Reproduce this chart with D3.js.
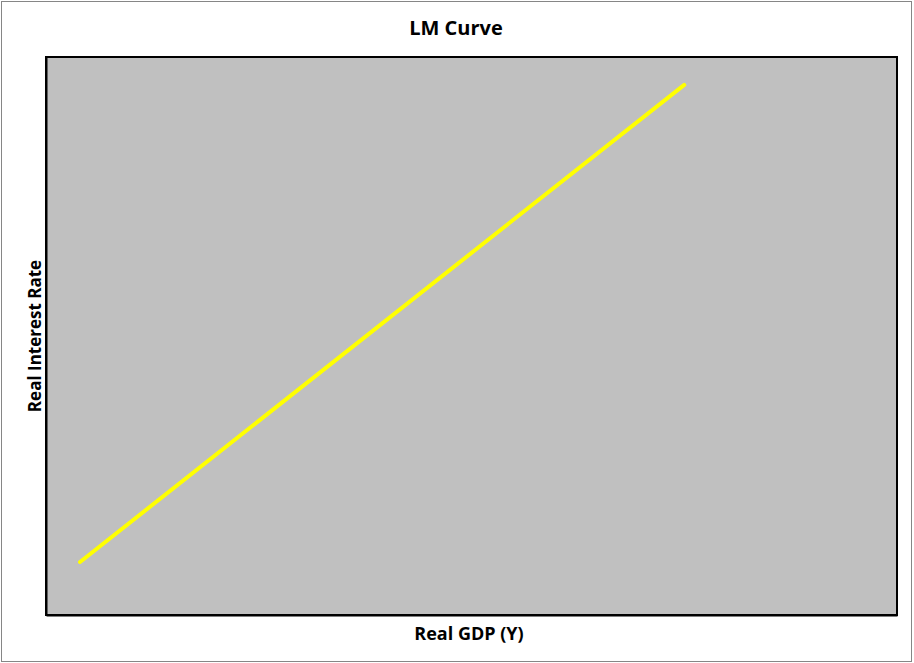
<!DOCTYPE html>
<html>
<head>
<meta charset="utf-8">
<script src="https://cdn.jsdelivr.net/npm/d3@7"></script>
<style>
  html, body { margin: 0; padding: 0; background: #ffffff; }
  svg { display: block; }
  text { font-family: "Open Sans", "Liberation Sans", sans-serif; font-weight: bold; fill: #000; }
</style>
</head>
<body>
<svg id="chart" width="914" height="663"></svg>
<script>
// Data
const title = "LM Curve";
const xLabel = "Real GDP (Y)";
const yLabel = "Real Interest Rate";
const xDomain = [0, 10];
const yDomain = [0, 10];
const lmX = [0.4, 7.5];
const lmY = [0.95, 9.5];

const W = 914, H = 663;
const plot = { left: 46, top: 57, right: 897, bottom: 615 };

const svg = d3.select("#chart");

// outer border
svg.append("rect")
  .attr("x", 1.5).attr("y", 1.5)
  .attr("width", W - 4).attr("height", H - 3)
  .attr("fill", "#fff").attr("stroke", "#868686").attr("stroke-width", 1);

const x = d3.scaleLinear().domain(xDomain).range([plot.left, plot.right]);
const y = d3.scaleLinear().domain(yDomain).range([plot.bottom, plot.top]);

// plot area
svg.append("rect")
  .attr("x", plot.left).attr("y", plot.top)
  .attr("width", plot.right - plot.left).attr("height", plot.bottom - plot.top)
  .attr("fill", "#c0c0c0").attr("stroke", "#000").attr("stroke-width", 2);

// axes without ticks
const xAxis = d3.axisBottom(x).tickValues([]).tickSizeOuter(0);
const yAxis = d3.axisLeft(y).tickValues([]).tickSizeOuter(0);
svg.append("g").attr("transform", `translate(0,${plot.bottom})`).call(xAxis)
  .select(".domain").attr("stroke", "#000").attr("stroke-width", 2);
svg.append("g").attr("transform", `translate(${plot.left},0)`).call(yAxis)
  .select(".domain").attr("stroke", "#000").attr("stroke-width", 2);

// LM line
const pts = lmX.map((v, i) => [v, lmY[i]]);
svg.append("path")
  .datum(pts)
  .attr("fill", "none")
  .attr("stroke", "#ffff00")
  .attr("stroke-width", 4)
  .attr("stroke-linecap", "round")
  .attr("d", d3.line().x(d => x(d[0])).y(d => y(d[1])));

// title
svg.append("text")
  .attr("x", 456).attr("y", 35)
  .attr("text-anchor", "middle")
  .attr("font-size", 20)
  .text(title);

// x label
svg.append("text")
  .attr("x", 469).attr("y", 640)
  .attr("text-anchor", "middle")
  .attr("font-size", 18)
  .text(xLabel);

// y label
svg.append("text")
  .attr("transform", `translate(41,${(plot.top + plot.bottom) / 2}) rotate(-90)`)
  .attr("text-anchor", "middle")
  .attr("font-size", 17)
  .text(yLabel);
</script>
</body>
</html>
